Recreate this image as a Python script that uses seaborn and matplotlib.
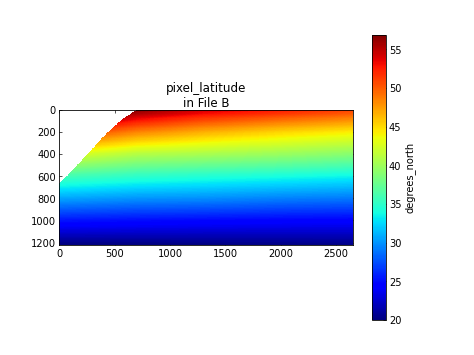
import matplotlib
matplotlib.use("Agg")
import matplotlib.pyplot as plt
import numpy as np
import seaborn as sns

# latitude (degrees_north) sampled on a coarse grid of the swath
ROW_SAMPLES = [0, 200, 400, 600, 800, 1000, 1215]
COL_SAMPLES = [0, 700, 1300, 2000, 2650]
LAT_AT_COL_0 = [62.0, 52.0, 43.0, 36.0, 30.6, 25.3, 20.0]
LAT_AT_COL_700 = [56.9, 48.5, 41.0, 35.0, 30.0, 25.0, 20.0]
LAT_AT_COL_1300 = [54.5, 46.8, 40.5, 34.5, 29.8, 24.8, 20.1]
LAT_AT_COL_2000 = [52.8, 45.3, 39.8, 34.0, 29.3, 24.6, 20.2]
LAT_AT_COL_2650 = [51.2, 44.3, 39.0, 33.5, 29.0, 24.5, 20.3]

# left edge of valid data (fill values to the left of it)
EDGE_ROWS = [0, 90, 226, 407, 558, 660]
EDGE_COLS = [700, 565, 414, 250, 110, 0]

N_ROWS, N_COLS, STEP = 1220, 2650, 5


def main():
    sns.set_theme(style="white", rc={
        "font.size": 12, "axes.titlesize": 14.4, "axes.labelsize": 12,
        "xtick.labelsize": 12, "ytick.labelsize": 12,
        "axes.edgecolor": "black", "xtick.color": "black", "ytick.color": "black",
        "text.color": "black", "axes.labelcolor": "black",
    })
    plt.rcParams["font.family"] = ["DejaVu Sans"]

    rows = np.arange(0, N_ROWS, STEP) + STEP / 2
    cols = np.arange(0, N_COLS, STEP) + STEP / 2
    table = np.array([LAT_AT_COL_0, LAT_AT_COL_700, LAT_AT_COL_1300,
                      LAT_AT_COL_2000, LAT_AT_COL_2650])
    by_row = np.array([np.interp(rows, ROW_SAMPLES, t) for t in table])
    lat = np.array([np.interp(cols, COL_SAMPLES, by_row[:, i]) for i in range(len(rows))])
    edge = np.interp(rows, EDGE_ROWS, EDGE_COLS, right=0)
    mask = cols[None, :] < edge[:, None]

    fig = plt.figure(figsize=(8, 6), dpi=59.25)
    ax = fig.add_axes([0.1245, 0.3099, 0.6203, 0.3803])
    cax = fig.add_axes([0.7848, 0.0986, 0.0295, 0.8028])

    sns.heatmap(lat, mask=mask, cmap="jet", vmin=20, vmax=56.9, ax=ax, cbar_ax=cax,
                xticklabels=False, yticklabels=False,
                cbar_kws={"label": "degrees_north"})
    ax.set_aspect("equal")
    for s in ax.spines.values():
        s.set_visible(True)
        s.set_color("black")
        s.set_linewidth(1)

    xt = [0, 500, 1000, 1500, 2000, 2500]
    yt = [0, 200, 400, 600, 800, 1000, 1200]
    ax.set_xticks([v / STEP for v in xt])
    ax.set_xticklabels([str(v) for v in xt], rotation=0)
    ax.set_yticks([v / STEP for v in yt])
    ax.set_yticklabels([str(v) for v in yt], rotation=0)
    ax.tick_params(direction="in", top=True, right=True, length=4, width=0.8,
                   bottom=True, left=True, pad=4)
    ax.set_title("pixel_latitude\nin File B", fontsize=14.4, pad=4)

    cb = ax.collections[0].colorbar
    cb.outline.set_linewidth(1)
    cb.outline.set_edgecolor("black")
    cb.set_ticks([20, 25, 30, 35, 40, 45, 50, 55])
    cax.tick_params(direction="in", length=4, width=0.8, right=True, labelsize=12)
    cb.set_label("degrees_north", fontsize=12)

    fig.savefig("out.png", dpi=59.25)
    plt.close(fig)


if __name__ == "__main__":
    main()
